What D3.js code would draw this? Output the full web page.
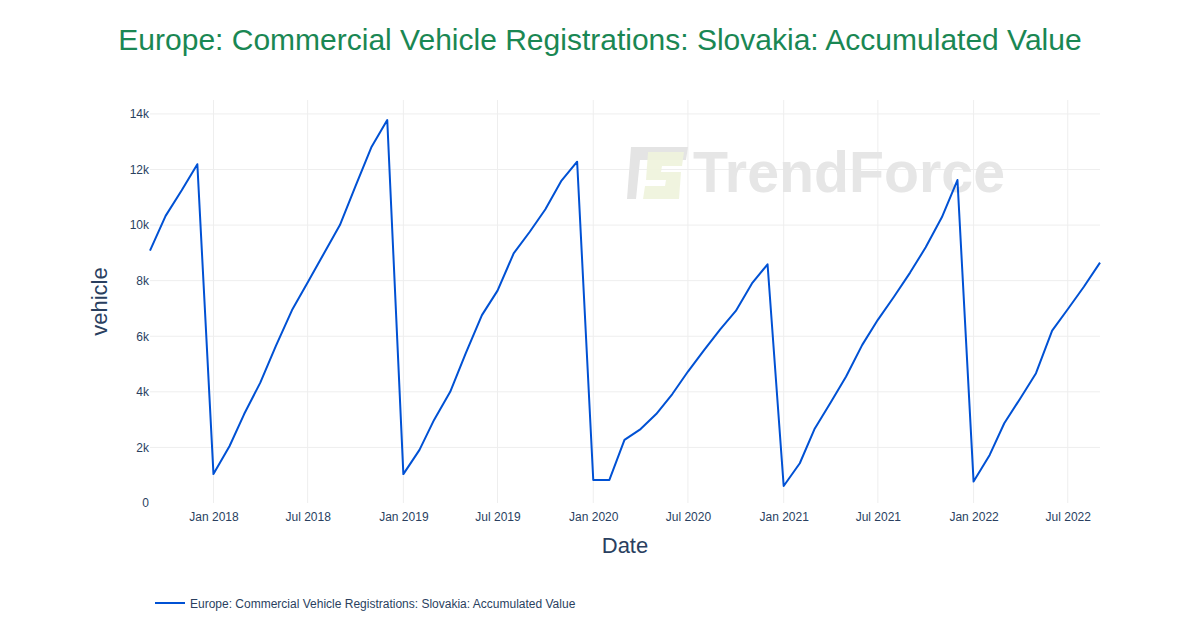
<!DOCTYPE html>
<html>
<head>
<meta charset="utf-8">
<script src="https://cdn.jsdelivr.net/npm/d3@7"></script>
<style>
  body { margin: 0; background: #fff; }
  svg { display: block; font-family: "Liberation Sans", Arial, sans-serif; }
</style>
</head>
<body>
<svg id="chart" width="1200" height="630"></svg>
<script>
// monthly data, Sep 2017 .. Sep 2022
var months = [
	"2017-09","2017-10","2017-11","2017-12",
	"2018-01","2018-02","2018-03","2018-04","2018-05","2018-06","2018-07","2018-08","2018-09","2018-10","2018-11","2018-12",
	"2019-01","2019-02","2019-03","2019-04","2019-05","2019-06","2019-07","2019-08","2019-09","2019-10","2019-11","2019-12",
	"2020-01","2020-02","2020-03","2020-04","2020-05","2020-06","2020-07","2020-08","2020-09","2020-10","2020-11","2020-12",
	"2021-01","2021-02","2021-03","2021-04","2021-05","2021-06","2021-07","2021-08","2021-09","2021-10","2021-11","2021-12",
	"2022-01","2022-02","2022-03","2022-04","2022-05","2022-06","2022-07","2022-08","2022-09"
];
var values = [
	9080, 10330, 11250, 12190,
	1040, 2050, 3200, 4330, 5650, 6940, 7930, 8970, 10000, 11400, 12820, 13780,
	1040, 1910, 2990, 4000, 5390, 6760, 7640, 8980, 9760, 10570, 11600, 12280,
	830, 830, 2270, 2660, 3200, 3920, 4730, 5500, 6250, 6910, 7900, 8590,
	610, 1430, 2650, 3610, 4550, 5690, 6590, 7420, 8290, 9200, 10280, 11620,
	770, 1730, 2870, 3770, 4670, 6200, 6970, 7780, 8650
];
var yTicks = [0, 2000, 4000, 6000, 8000, 10000, 12000, 14000];
var xTicks = ["2018-01","2018-07","2019-01","2019-07","2020-01","2020-07","2021-01","2021-07","2022-01","2022-07"];

var titleText = "Europe: Commercial Vehicle Registrations: Slovakia: Accumulated Value";
var seriesName = "Europe: Commercial Vehicle Registrations: Slovakia: Accumulated Value";

var parseMonth = d3.timeParse("%Y-%m");
var data = months.map(function(m, i) { return { date: parseMonth(m), value: values[i] }; });

var svg = d3.select("#chart");
var plotL = 150, plotR = 1100, plotT = 100, plotB = 503;

var x = d3.scaleTime()
	.domain([parseMonth("2017-09"), parseMonth("2022-09")])
	.range([plotL, plotR]);
var y = d3.scaleLinear().domain([0, 14500]).range([plotB, plotT]);

// grid
svg.append("g").selectAll("line").data(xTicks).enter().append("line")
	.attr("x1", d => x(parseMonth(d))).attr("x2", d => x(parseMonth(d)))
	.attr("y1", plotT).attr("y2", plotB)
	.attr("stroke", "#eeeeee").attr("stroke-width", 1);
svg.append("g").selectAll("line").data(yTicks.filter(d => d > 0)).enter().append("line")
	.attr("x1", plotL).attr("x2", plotR)
	.attr("y1", d => y(d)).attr("y2", d => y(d))
	.attr("stroke", "#eeeeee").attr("stroke-width", 1);

// watermark
var wm = svg.append("g");
wm.append("path")
	.attr("d", "M631,147 L688,147 L686,160 L640,160 L636,199 L627,199 Z")
	.attr("fill", "#e4e4e4");
wm.append("path")
	.attr("d", "M648,152 L684,152 L682,166 L662,166 L661,172 L681,172 L679,199 L643,199 L645,186 L665,186 L666,180 L646,180 Z")
	.attr("fill", "#eef3dc").attr("opacity", 0.9);
wm.append("text")
	.attr("x", 693).attr("y", 192)
	.attr("font-size", 57).attr("font-weight", "bold")
	.attr("fill", "#e6e6e6")
	.attr("textLength", 312).attr("lengthAdjust", "spacingAndGlyphs")
	.text("TrendForce");

// axes
var xAxis = d3.axisBottom(x)
	.tickValues(xTicks.map(parseMonth))
	.tickFormat(d3.timeFormat("%b %Y"))
	.tickSize(0).tickPadding(9);
var gx = svg.append("g").attr("transform", "translate(0," + plotB + ")").call(xAxis);
gx.select(".domain").remove();
gx.selectAll("text").attr("font-size", 12).attr("fill", "#2a3f5f").attr("font-family", "Liberation Sans, Arial, sans-serif");

var yAxis = d3.axisLeft(y)
	.tickValues(yTicks)
	.tickFormat(d => d === 0 ? "0" : (d / 1000) + "k")
	.tickSize(0).tickPadding(1);
var gy = svg.append("g").attr("transform", "translate(" + plotL + ",0)").call(yAxis);
gy.select(".domain").remove();
gy.selectAll("text").attr("font-size", 12).attr("fill", "#2a3f5f").attr("font-family", "Liberation Sans, Arial, sans-serif");

// line
var line = d3.line().x(d => x(d.date)).y(d => y(d.value));
svg.append("path").datum(data)
	.attr("fill", "none")
	.attr("stroke", "#0051d4")
	.attr("stroke-width", 2)
	.attr("stroke-linejoin", "round")
	.attr("d", line);

// titles
svg.append("text")
	.attr("x", 600).attr("y", 50)
	.attr("text-anchor", "middle")
	.attr("font-size", 30)
	.attr("fill", "#1a8753")
	.text(titleText);

svg.append("text")
	.attr("x", (plotL + plotR) / 2).attr("y", 553)
	.attr("text-anchor", "middle")
	.attr("font-size", 22).attr("fill", "#2a3f5f")
	.text("Date");

svg.append("text")
	.attr("transform", "translate(107," + ((plotT + plotB) / 2) + ") rotate(-90)")
	.attr("text-anchor", "middle")
	.attr("font-size", 22).attr("fill", "#2a3f5f")
	.text("vehicle");

// legend
var lg = svg.append("g").attr("transform", "translate(155,603)");
lg.append("line").attr("x1", 0).attr("x2", 30).attr("y1", 0).attr("y2", 0)
	.attr("stroke", "#0051d4").attr("stroke-width", 2);
lg.append("text").attr("x", 35).attr("y", 5)
	.attr("font-size", 12).attr("fill", "#2a3f5f")
	.text(seriesName);
</script>
</body>
</html>
